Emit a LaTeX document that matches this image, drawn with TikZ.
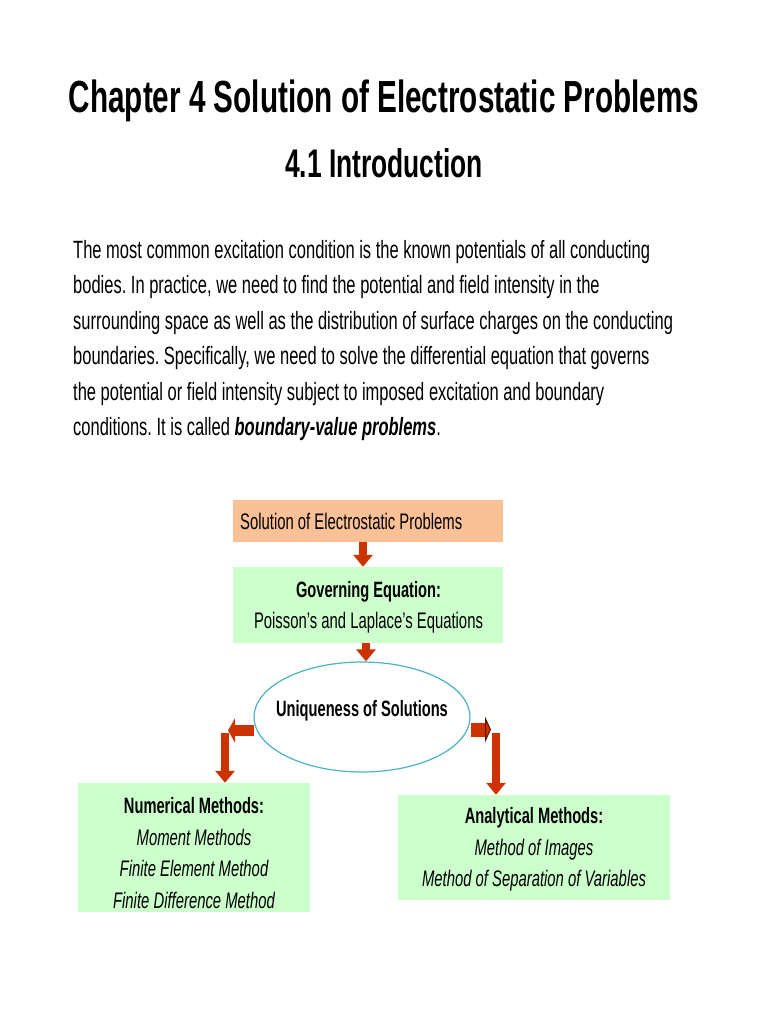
\documentclass[tikz,border=0pt]{standalone}
\usepackage{fontspec}
\setmainfont{Liberation Sans}[FakeStretch=0.66]
\usetikzlibrary{arrows.meta,shapes.geometric}
\definecolor{peach}{RGB}{250,192,150}
\definecolor{mint}{RGB}{204,255,204}
\definecolor{arrowred}{RGB}{204,51,0}
\definecolor{arrowdark}{RGB}{90,20,0}
\definecolor{teal1}{RGB}{75,180,195}
\newcommand{\hdfont}{\fontsize{22.2}{31.5}\selectfont\bfseries}
\begin{document}
\frenchspacing
\begin{tikzpicture}[x=1pt,y=-1pt,
  box/.style={rectangle,inner sep=0pt},
  boxtext/.style={inner sep=0pt,align=center,font=\fontsize{22.5}{31.5}\selectfont},
  hd/.style={font=\hdfont},
  blockarrow/.style={draw=arrowred,line width=8pt,-{Triangle[length=12pt,width=19pt]},arrowred},
  sidearrow/.style={draw=arrowred,line width=11pt,-{Triangle[length=7pt,width=24pt]},arrowred}]
\useasboundingbox (0,0) rectangle (768,1024);
% titles
\node[anchor=base,inner sep=0pt,font=\fontsize{45}{50}\selectfont\bfseries] (title) at (384,113) {Chapter 4 Solution of Electrostatic Problems};
\node[anchor=base,inner sep=0pt,font=\fontsize{40}{44}\selectfont\bfseries] (sub) at (384,178) {4.1 Introduction};
% paragraph (base anchor = baseline of last line)
\node[anchor=base west,inner sep=0pt,align=left,font=\fontsize{25}{35.5}\selectfont] (para) at (73,435.5)
{The most common excitation condition is the known potentials of all conducting\\
bodies. In practice, we need to find the potential and field intensity in the\\
surrounding space as well as the distribution of surface charges on the conducting\\
boundaries. Specifically, we need to solve the differential equation that governs\\
the potential or field intensity subject to imposed excitation and boundary\\
conditions. It is called \textbf{\textit{boundary-value problems}}.};
% flowchart boxes
\node[box,fill=peach,minimum width=270pt,minimum height=42pt] (b1) at (368,521) {};
\node[anchor=west,boxtext] (b1t) at (240,521) {Solution of Electrostatic Problems};
\node[box,fill=mint,minimum width=270pt,minimum height=76pt] (b2) at (368,605) {};
\node[boxtext] (b2t) at (368.5,607.5) {{\hdfont Governing Equation:}\\Poisson's and Laplace's Equations};
\node[ellipse,draw=teal1,line width=1.2pt,fill=white,minimum width=216pt,minimum height=110pt,inner sep=0pt] (ell) at (362,717) {};
\node[boxtext,hd] (ellt) at (362,711) {Uniqueness of Solutions};
\node[box,fill=mint,minimum width=232pt,minimum height=129pt] (b3) at (194,847.5) {};
\node[boxtext] (b3t) at (194,853) {{\hdfont Numerical Methods:}\\\itshape Moment Methods\\\itshape Finite Element Method\\\itshape Finite Difference Method};
\node[box,fill=mint,minimum width=272pt,minimum height=105pt] (b4) at (534,847.5) {};
\node[boxtext] (b4t) at (534,849.5) {{\hdfont Analytical Methods:}\\\itshape Method of Images\\\itshape Method of Separation of Variables};
% connectors
\coordinate (lh) at (228,730.5);
\coordinate (lv) at (225,733);
\coordinate (rh) at (491,729.5);
\coordinate (rv) at (496,733);
\draw[blockarrow] (b1.south -| 363,0) -- (b2.north -| 363,0);
\draw[blockarrow] (b2.south -| 366,0) -- (ell.north -| 366,0);
\draw[sidearrow] (ell.west |- lh) ++(1,0) -- (lh);
\draw[blockarrow] (lv) -- (b3.north -| lv);
\draw[sidearrow,line width=14pt,-{Triangle[length=6pt,width=26pt,fill=arrowred,color=arrowdark,line width=1pt]}] (ell.east |- rh) -- (rh);
\draw[blockarrow] (rv) -- (b4.north -| rv);
\end{tikzpicture}
\end{document}
